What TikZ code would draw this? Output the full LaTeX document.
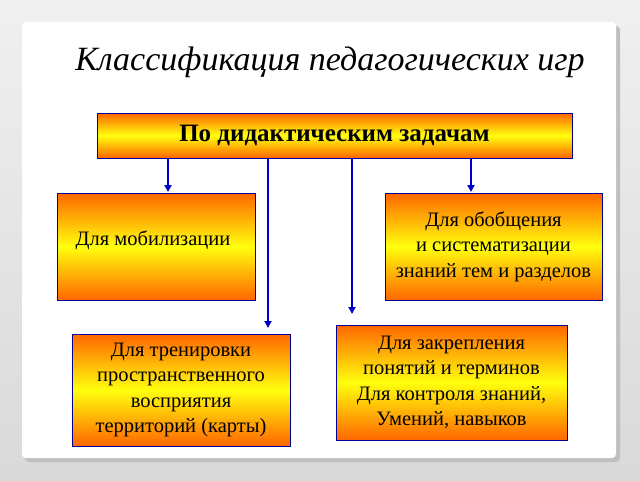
\documentclass[tikz,border=0pt]{standalone}
\usepackage{fontspec}
\setmainfont{Liberation Serif}
\usetikzlibrary{arrows.meta}
\tikzset{
  gbox/.style={draw=blue!60!black, line width=1pt, top color=orange!80!red, bottom color=orange!80!red, middle color=yellow!95!white, shading angle=0, inner sep=0pt, font=\fontsize{20.5}{25.5}\selectfont, align=center},
  arr/.style={draw=blue!80!black, line width=2pt, -{Triangle[length=7pt,width=7pt]}}
}
\begin{document}
\begin{tikzpicture}[x=1pt,y=-1pt]
\useasboundingbox (0,0) rectangle (640,480);
\fill[top color=gray!12, bottom color=gray!30] (0,0) rectangle (640,480);
\fill[gray!50, rounded corners=4] (25,26) rectangle (620,462);
\fill[white, rounded corners=4] (22,22) rectangle (616,458);
\node (title) at (330,62) {\fontsize{34}{40}\selectfont\itshape Классификация педагогических игр};
\node[gbox, minimum width=475, minimum height=45] (top) at (334.5,135.5) {\fontsize{25}{30}\selectfont\bfseries По дидактическим задачам};
\node[gbox, minimum width=198, minimum height=107] (b1) at (156,246.5) {};
\node[font=\fontsize{20.5}{25.5}\selectfont] (t1) at (153,240) {Для мобилизации};
\node[gbox, minimum width=217, minimum height=107] (b2) at (493.5,246.5) {Для обобщения\\ и систематизации\\ знаний тем и разделов};
\node[gbox, minimum width=231, minimum height=115] (b3) at (451.5,382.5) {Для закрепления\\ понятий и терминов\\ Для контроля знаний,\\ Умений, навыков};
\node[gbox, minimum width=218, minimum height=112] (b4) at (181,390) {Для тренировки\\ пространственного\\ восприятия\\ территорий (карты)};
\draw[arr] (168,158) -- (168,192);
\draw[arr] (471,158) -- (471,192);
\draw[arr] (268,158) -- (268,328);
\draw[arr] (352,158) -- (352,314);
\end{tikzpicture}
\end{document}
